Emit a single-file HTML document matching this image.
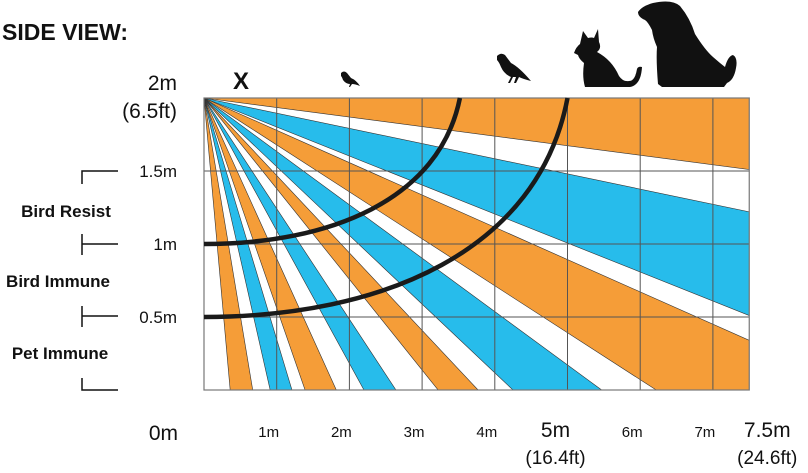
<!DOCTYPE html>
<html><head><meta charset="utf-8"><style>
body{margin:0;background:#fff;}
svg{display:block;font-family:"Liberation Sans",sans-serif;}
</style></head><body>
<svg width="808" height="473" viewBox="0 0 808 473">
<text x="2" y="40" font-size="23" font-weight="bold" fill="#111">SIDE VIEW:</text>
<g id="bands"></g>
<g id="grid"></g>
<g id="arcs"></g>
<g id="labels"></g>
<g stroke="#111" stroke-width="1.5" fill="none">
<path d="M82 184V171H118"/>
<path d="M82 234V255M82 244H118"/>
<path d="M82 306V327M82 316H118"/>
<path d="M82 378V390H118"/>
</g>
<g font-size="17" font-weight="bold" fill="#111" text-anchor="middle">
<text x="66" y="217">Bird Resist</text>
<text x="58" y="287">Bird Immune</text>
<text x="60" y="359">Pet Immune</text>
</g>
<text x="241" y="89" font-size="24" font-weight="bold" text-anchor="middle" fill="#111">X</text>
<g fill="#111">
<path d="M341 73 q3 -3 6 0 l4 5 q5 2 9 8 q-5 -2 -8 -2 l-2 3 h-1 l1 -3 q-4 0 -7 -4 q-1 -3 -2 -4 z"/>
<path d="M497 56 q4 -4 8 -1 l6 8 q8 4 20 18 q-8 -2 -12 -4 l-3 6 h-2 l2 -6 l-3 0 l-3 6 h-2 l3 -6 q-7 -3 -10 -10 q-2 -5 -4 -7 z"/>
<path d="M580 44 l3 -13 l5 7 q4 -1 6 0 l4 -9 l1 13 q3 6 -2 10 q15 8 22 24 q4 6 10 5 q6 0 8 -12 q1 -3 5 -2 q-1 18 -12 20 h-45 q-3 -10 -1 -24 q-5 -4 -6 -8 l-4 -2 q2 -6 6 -9 z"/>
<path d="M653 3 Q672 -1 680 6 Q690 18 695 34 Q705 50 713 57 L720 63 L725 67 Q728 56 733 55 Q738 58 736 68 Q734 80 727 83 L724 87 H662 L658 84 Q656 60 657 47 Q653 38 652 30 Q648 22 645 20 Q638 17 638 12 Q642 6 653 3 Z"/>
</g>
</svg>
<script>
// axis mapping: meters -> pixels
const x0=204, y0=390, pxPerMx=72.7, pxPerMy=146;
function X(m){return x0+m*pxPerMx;}
function Y(m){return y0-m*pxPerMy;}
const apex=[0,2];
// band edges: each band defined by two boundary points [xm, ym] where the ray exits the grid
const bandColors=["#f59d38","#27bceb","#f59d38","#27bceb","#f59d38","#27bceb","#f59d38","#27bceb","#f59d38"];
const bandStart=[[0.36,0],[0.91,0],[1.39,0],[2.2,0],[3.22,0],[4.25,0],[6.22,0],[7.5,0.51],[7.5,1.51]];
const bandEnd=[[0.67,0],[1.21,0],[1.82,0],[2.64,0],[3.77,0],[5.47,0],[7.5,0.34],[7.5,1.22],[7.5,2]];
const xTicks=[1,2,3,4,5,6,7,7.5];
const xTickLabels=["1m","2m","3m","4m","5m","6m","7m","7.5m"];
const xTickSub=["","","","","(16.4ft)","","","(24.6ft)"];
const yTicks=[1.5,1,0.5];
const yTickLabels=["1.5m","1m","0.5m"];
const arcRadii=[1,0.5]; // arc start heights (m)
const arcReach=[3.52,5.0]; // where arc hits top (m)
const NS="http://www.w3.org/2000/svg";
function mk(tag,attrs,parent){const e=document.createElementNS(NS,tag);for(const k in attrs)e.setAttribute(k,attrs[k]);parent.appendChild(e);return e;}
const bands=document.getElementById('bands');
bandStart.forEach((s,i)=>{
  const e=bandEnd[i];
  let pts=[[X(apex[0]),Y(apex[1])],[X(s[0]),Y(s[1])]];
  if(s[1]===0&&e[0]===7.5&&e[1]>0)pts.push([X(7.5),Y(0)]);
  pts.push([X(e[0]),Y(e[1])]);
  const p=mk('polygon',{points:pts.map(p=>p.join(',')).join(' '),fill:bandColors[i],stroke:"#333","stroke-width":"0.6"},bands);
  
  
});
const grid=document.getElementById('grid');
for(let m=0;m<=7;m++){
  const l=mk('line',{x1:X(m),y1:Y(0),x2:X(m),y2:Y(2),stroke:"#555","stroke-width":"1"},grid);
  
  
}
for(let h=0;h<=2;h+=0.5){
  const l=mk('line',{x1:X(0),y1:Y(h),x2:X(7.5),y2:Y(h),stroke:"#555","stroke-width":"1"},grid);
  
  
}
const border=mk('rect',{x:X(0),y:Y(2),width:X(7.5)-X(0),height:Y(0)-Y(2),fill:"none",stroke:"#777","stroke-width":"1.2"},grid);


const arcs=document.getElementById('arcs');
arcRadii.forEach((h,i)=>{
  const sx=X(0),sy=Y(h),ex=X(arcReach[i]),ey=Y(2);
  const dx=ex-sx,dy=sy-ey;
  const c1x=sx+dx*0.49,c1y=sy,c2x=sx+dx*0.92,c2y=sy-dy*0.3;
  const p=mk('path',{d:`M${sx} ${sy}C${c1x} ${c1y} ${c2x} ${c2y} ${ex} ${ey}`,fill:"none",stroke:"#1a1a1a","stroke-width":"4.5"},arcs);
  
  
});
const labels=document.getElementById('labels');
xTicks.forEach((m,i)=>{
  const big=xTickSub[i]!=="";
  const t=mk('text',{x:X(m)-(big?(m===7.5?-18:12):8),y:big?437:437,"font-size":big?21:15,"text-anchor":"middle",fill:"#111"},labels);
  t.textContent=xTickLabels[i];
  
  
  if(big){
    const s=mk('text',{x:X(m)-(m===7.5?-18:12),y:464,"font-size":19,"text-anchor":"middle",fill:"#111"},labels);
    s.textContent=xTickSub[i];
    
    
  }
});
yTicks.forEach((m,i)=>{
  const t=mk('text',{x:177,y:Y(m)+6,"font-size":17,"text-anchor":"end",fill:"#111"},labels);
  t.textContent=yTickLabels[i];
  
  
});
[["2m",177,90,"y-tick-2m"],["(6.5ft)",177,118,"y-tick-2m-ft"],["0m",178,440,"x-tick-0m"]].forEach(a=>{
  const t=mk('text',{x:a[1],y:a[2],"font-size":21,"text-anchor":"end",fill:"#111"},labels);
  t.textContent=a[0];
  
  
});
</script>
</body></html>
